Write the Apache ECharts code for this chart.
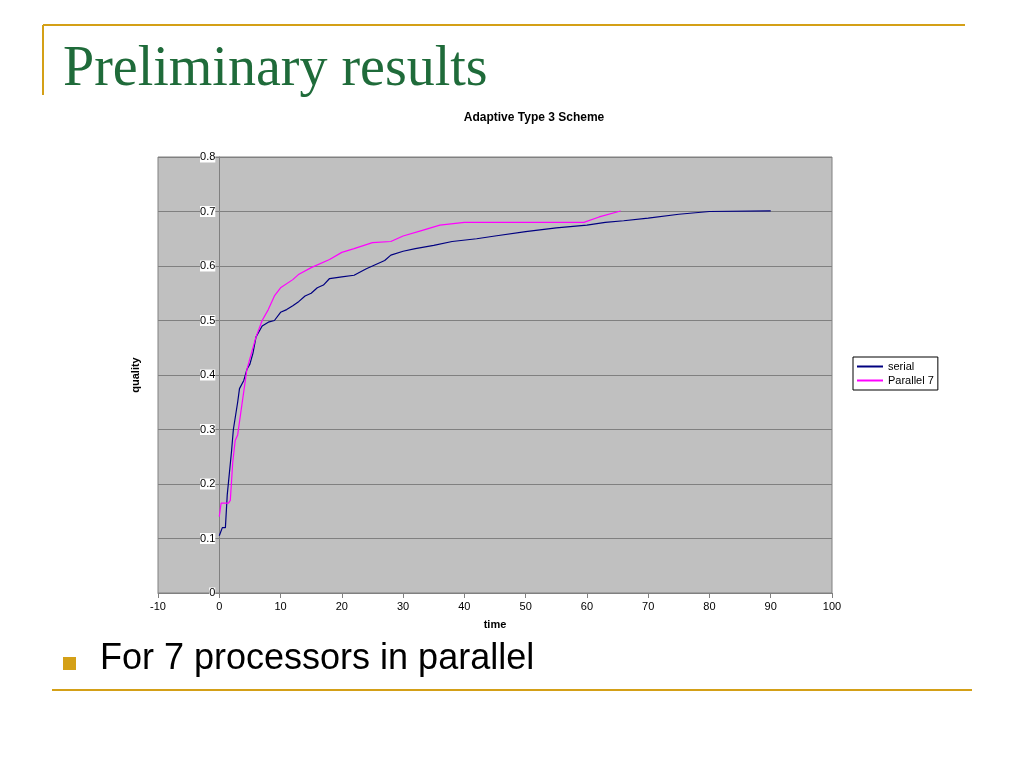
<!DOCTYPE html><html><head><meta charset="utf-8"><script src="https://cdn.jsdelivr.net/npm/echarts@6/dist/echarts.min.js"></script>
<style>html,body{margin:0;background:#fff}#c{width:1024px;height:768px}</style></head><body><div id="c"></div><script>
const serialX=[0,0.5,1,1.3,2,2.3,2.6,3,3.3,4,4.5,5,5.5,6,7,8,9,10,11,12,13,14,15,16,17,18,20,22,24,25,27,28,30,32,35,38,42,45,50,55,60,63,66,70,75,80,90];
const serialY=[0.105,0.12,0.12,0.18,0.26,0.30,0.30,0.35,0.375,0.39,0.41,0.42,0.44,0.47,0.49,0.497,0.5,0.515,0.52,0.527,0.535,0.545,0.55,0.56,0.565,0.577,0.58,0.583,0.595,0.6,0.61,0.62,0.627,0.632,0.638,0.645,0.65,0.655,0.663,0.67,0.675,0.68,0.683,0.688,0.695,0.7,0.701];
const parX=[0,0.3,1.5,1.8,2.2,2.6,3,3.5,4,4.5,5,6,7,8,9,10,12,13,15,18,20,22,25,28,30,33,36,40,50,59.5,62,65.5];
const parY=[0.14,0.165,0.165,0.17,0.24,0.28,0.29,0.33,0.37,0.41,0.43,0.47,0.5,0.52,0.545,0.56,0.575,0.585,0.597,0.612,0.625,0.632,0.643,0.645,0.655,0.665,0.675,0.68,0.68,0.68,0.69,0.701];
const zip=(a,b)=>a.map((v,i)=>[v,b[i]]);
const gold='#D4A017';
const c=echarts.init(document.getElementById('c'));
c.setOption({animation:false,
title:{text:'Adaptive Type 3 Scheme',left:529,top:107,textAlign:'center',textStyle:{fontFamily:'Liberation Sans',fontSize:12,fontWeight:'bold',color:'#000'}},
grid:{left:158,right:192,top:157,bottom:175,show:true,backgroundColor:'#C0C0C0',borderColor:'#808080',borderWidth:1},
legend:{orient:'vertical',left:853,top:357,backgroundColor:'#fff',borderColor:'#000',borderWidth:1,padding:[4,4,4,4],itemGap:3,itemWidth:26,itemHeight:2,icon:'rect',textStyle:{fontFamily:'Liberation Sans',fontSize:11,color:'#000'},data:['serial','Parallel 7']},
xAxis:{type:'value',min:-10,max:100,interval:10,name:'time',nameLocation:'middle',nameGap:26,nameTextStyle:{fontFamily:'Liberation Sans',fontSize:11,fontWeight:'bold',color:'#000'},
axisLine:{onZero:false,lineStyle:{color:'#808080'}},axisTick:{show:true,lineStyle:{color:'#808080'}},splitLine:{show:false},axisLabel:{color:'#000',fontFamily:'Liberation Sans',fontSize:11}},
yAxis:{type:'value',min:0,max:0.8,interval:0.1,offset:-61.3,name:'quality',nameLocation:'middle',nameGap:78,nameRotate:90,nameTextStyle:{fontFamily:'Liberation Sans',fontSize:11,fontWeight:'bold',color:'#000'},
axisLine:{onZero:false,lineStyle:{color:'#808080'}},axisTick:{show:true,lineStyle:{color:'#808080'}},splitLine:{lineStyle:{color:'#808080'}},
axisLabel:{color:'#000',fontFamily:'Liberation Sans',fontSize:11,backgroundColor:'#fff',margin:4,formatter:v=>String(+v.toFixed(1))}},
series:[{name:'serial',type:'line',data:zip(serialX,serialY),showSymbol:false,lineStyle:{color:'#000080',width:1.2},itemStyle:{color:'#000080'}},
{name:'Parallel 7',type:'line',data:zip(parX,parY),showSymbol:false,lineStyle:{color:'#FF00FF',width:1.2},itemStyle:{color:'#FF00FF'}}],
graphic:[
{type:'line',shape:{x1:43,y1:25,x2:965,y2:25},style:{stroke:gold,lineWidth:2}},
{type:'line',shape:{x1:43,y1:25,x2:43,y2:95},style:{stroke:gold,lineWidth:2}},
{type:'line',shape:{x1:52,y1:690,x2:972,y2:690},style:{stroke:gold,lineWidth:2}},
{type:'text',left:63,top:42,style:{text:'Preliminary results',fontFamily:'Liberation Serif',fontSize:56,fill:'#1F6B3A'}},
{type:'rect',shape:{x:63,y:657,width:13,height:13},style:{fill:gold}},
{type:'text',left:100,top:641,style:{text:'For 7 processors in parallel',fontFamily:'Liberation Sans',fontSize:36,fill:'#000'}}
]});
</script></body></html>
